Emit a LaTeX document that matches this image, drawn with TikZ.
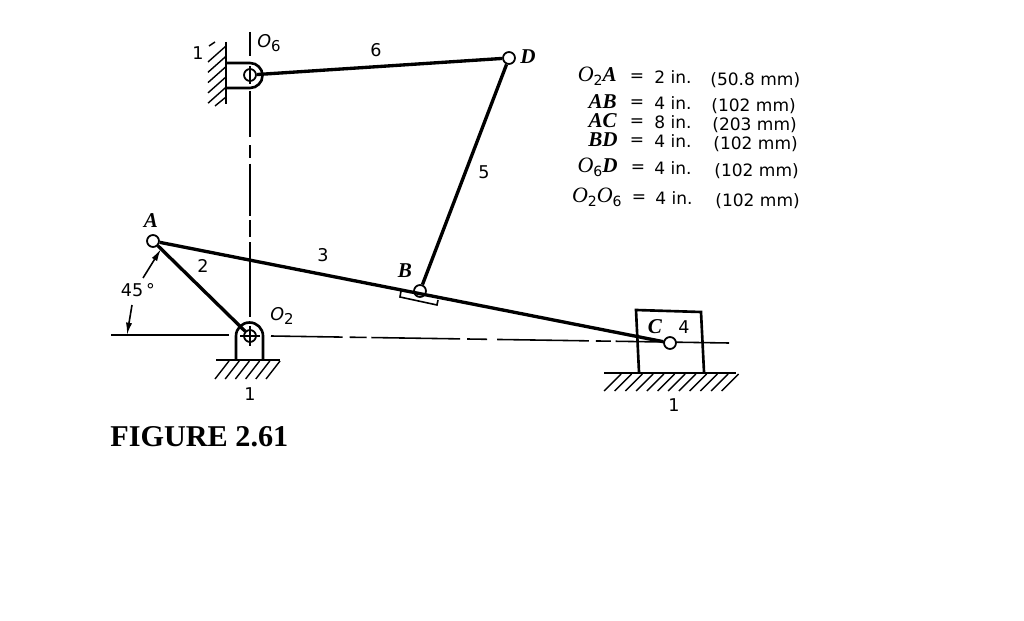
\documentclass[tikz,border=0pt]{standalone}
\usepackage{fontspec}
\usetikzlibrary{arrows.meta}
\setmainfont{DejaVu Sans}
\newfontfamily\serifface{Liberation Serif}
\newcommand{\pt}[1]{{\serifface\itshape\bfseries\fontsize{12}{14}\selectfont #1}}
\newcommand{\ob}[1]{\textit{O}\raisebox{-0.4ex}{\fontsize{8.5}{10}\selectfont #1}}
\newcommand{\obt}[1]{{\serifface\itshape\fontsize{12.5}{14}\selectfont O}\raisebox{-0.4ex}{\fontsize{8}{10}\selectfont #1}}
\tikzset{
    link/.style={line width=1.9pt},
    thin line/.style={line width=0.9pt},
    support/.style={line width=1.5pt},
    hatch/.style={line width=0.8pt},
    pin/.style={circle,draw,line width=1pt,fill=white,inner sep=0pt,minimum size=6.8pt},
    dimarrow/.style={thin line,-{Latex[length=7pt,width=3.5pt]}},
    lbl/.style={inner sep=0pt,font=\fontsize{10}{12}\selectfont},
    tbl/.style={inner sep=0pt,font=\fontsize{9.7}{12}\selectfont}
}
\begin{document}
\begin{tikzpicture}[x=0.02cm,y=-0.02cm]
    \useasboundingbox (0,0) rectangle (1024,621);
    % centre lines
    \coordinate (top6) at (250,32);
    \coordinate (stub6) at (250,56);
    \coordinate (under6) at (250,91);
    \coordinate (over2) at (250,317);
    \coordinate (left2) at (111,335);
    \coordinate (end2) at (229,335);
    \coordinate (start2) at (271,336);
    \coordinate (endC) at (729,343);
    \draw[thin line] (top6) -- (stub6);
    \draw[thin line,dash pattern=on 26pt off 5pt on 7.4pt off 3pt on 30pt off 2pt on 9.6pt off 3pt on 50pt] (under6) -- (over2);
    \draw[thin line] (left2) -- (end2);
    \draw[thin line,dash pattern=on 40.8pt off 4pt on 9.6pt off 2.8pt on 50.5pt off 4pt on 11.3pt off 5.7pt on 52.2pt off 4pt on 8.5pt off 2.8pt on 80pt] (start2) -- (endC);
    % ground under O2
    \draw[support] (216,360) -- (280,360);
    \foreach \i in {0,...,5}
        \draw[hatch] (229+\i*10.2,361) -- (215+\i*10.2,379);
    % wall at O6
    \draw[support] (226,42) -- (226,104);
    \foreach \i in {0,...,4}
        \draw[hatch] (226,46+\i*10.3) -- (208,62+\i*10.3);
    \draw[hatch] (215,42) -- (209,46);
    \draw[hatch] (226,97) -- (215,106);
    % ground under slider
    \draw[support] (604,373) -- (736,373);
    \foreach \i in {0,...,11}
        \draw[hatch] (621+\i*10.7,374) -- (604+\i*10.7,391);
    % brackets
    \draw[support] (226,63) -- (250,63) arc[start angle=-90,end angle=90,radius=12.5] -- (226,88);
    \draw[support] (236,360) -- (236,336) arc[start angle=180,end angle=360,radius=13.5] -- (263,360);
    % slider 4 and the shoe at B
    \draw[support] (639,372) -- (636,310) -- (701,312) -- (704,372);
    \draw[thin line] (401,291) -- (400,297) -- (437,305) -- (438,300);
    % joints
    \node[pin] (O6) at (250,75) {};
    \node[pin] (O2) at (250,336) {};
    \node[pin] (A) at (153,241) {};
    \node[pin] (B) at (420,291) {};
    \node[pin] (C) at (670,343) {};
    \node[pin] (D) at (509,58) {};
    % links
    \draw[link] (A) -- (C);
    \draw[link] (A) -- (O2);
    \draw[link] (B) -- (D);
    \draw[link] (O6) -- (D);
    \draw[thin line] (250,66) -- (250,84);
    \draw[thin line] (250,326) -- (250,346);
    \draw[thin line] (240,336) -- (260,336);
    % angle arrows
    \coordinate (up45) at (143,278);
    \coordinate (tip45) at (161,249);
    \coordinate (down45) at (132,305);
    \coordinate (foot45) at (127,335);
    \draw[dimarrow] (up45) -- (tip45);
    \draw[dimarrow] (down45) -- (foot45);
    % labels
    \node[lbl] (num1a) at (198,53) {1};
    \node[lbl,anchor=west] (labO6) at (257,43) {\ob{6}};
    \node[lbl] (num6) at (376,50) {6};
    \node[lbl,anchor=west] (labD) at (520,57) {\pt{D}};
    \node[lbl] (num5) at (484,172) {5};
    \node[lbl] (labA) at (151,221) {\pt{A}};
    \node[lbl] (num2) at (203,266) {2};
    \node[lbl] (num3) at (323,255) {3};
    \node[lbl] (labB) at (405,271) {\pt{B}};
    \node[lbl] (lab45) at (138,290) {45\,\textdegree};
    \node[lbl,anchor=west] (labO2) at (270,316) {\ob{2}};
    \node[lbl] (labC) at (655,327) {\pt{C}};
    \node[lbl] (num4) at (684,327) {4};
    \node[lbl] (num1b) at (250,394) {1};
    \node[lbl] (num1c) at (674,405) {1};
    \node[anchor=west,inner sep=0pt,font=\serifface\bfseries\fontsize{17.2}{20}\selectfont] (fig) at (110,437) {FIGURE 2.61};
    % dimensions
    \foreach \i/\y/\xa/\xb/\xc/\name/\len/\mm in {
        1/77/617/637/654/\obt{2}\pt{A}/2 in./(50.8 mm),
        2/103/617/637/654/\pt{AB}/4 in./(102 mm),
        3/122/617/637/654/\pt{AC}/8 in./(203 mm),
        4/141/618/637/654/\pt{BD}/4 in./(102 mm),
        5/168/618/638/654/\obt{6}\pt{D}/4 in./(102 mm),
        6/198/622/639/655/\obt{2}\obt{6}/4 in./(102 mm)}
    {
        \node[tbl,anchor=east] (name\i) at (\xa,\y-1) {\name};
        \node[tbl] (eq\i) at (\xb,\y+1) {=};
        \node[tbl,anchor=west] (len\i) at (\xc,\y) {\len};
        \node[tbl,anchor=west] (mm\i) at (709+\i,\y+3) {\mm};
    }
\end{tikzpicture}
\end{document}
